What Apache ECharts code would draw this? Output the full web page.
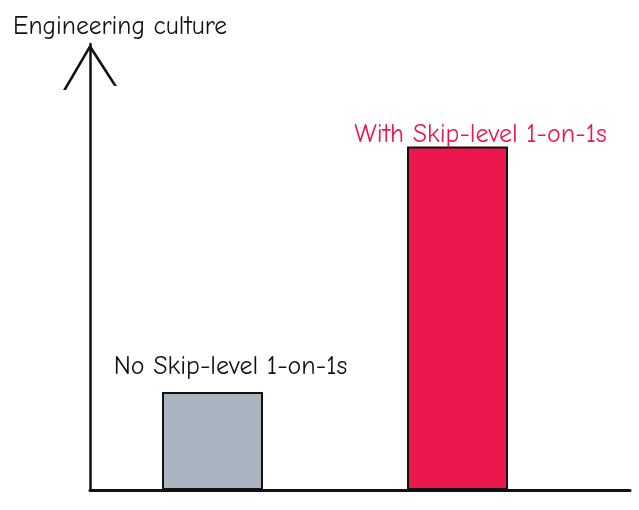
<!DOCTYPE html>
<html>
<head>
    <meta charset="utf-8">
    <title>Engineering culture</title>
    <script src="https://cdn.jsdelivr.net/npm/echarts@6/dist/echarts.min.js"></script>
    <style>
        html, body { margin: 0; padding: 0; background: #fff; }
    </style>
</head>
<body>
    <div id="chart" style="width: 639px;height:510px;"></div>
    <script type="text/javascript">
        // data
        var categories = ['No Skip-level 1-on-1s', 'With Skip-level 1-on-1s'];
        var values = [22, 77];
        var barColors = ['#aab4c0', '#ec174c'];
        var labelColors = ['#111111', '#ec174c'];
        var labelOffsets = [[18, -7], [23, 6]];

        var font = '"Comic Sans MS", "Comic Neue", Lato, sans-serif';

        var myChart = echarts.init(document.getElementById('chart'));

        var option = {
            backgroundColor: '#ffffff',
            animation: false,
            title: {
                text: 'Engineering culture',
                left: 8,
                top: 9,
                textStyle: { fontFamily: font, fontSize: 25.5, fontWeight: 'normal', color: '#111' }
            },
            grid: [
                { left: 90, width: 490, top: 44, bottom: 20 },
                { left: 90, right: 9, top: 44, bottom: 20 }
            ],
            xAxis: [
                {
                    type: 'category',
                    gridIndex: 0,
                    data: categories,
                    axisLine: { show: false },
                    axisTick: { show: false },
                    axisLabel: { show: false }
                },
                {
                    type: 'value',
                    gridIndex: 1,
                    min: 0,
                    max: 1,
                    axisLine: { show: true, lineStyle: { color: '#111', width: 3 } },
                    axisTick: { show: false },
                    axisLabel: { show: false },
                    splitLine: { show: false }
                }
            ],
            yAxis: [
                {
                    type: 'value',
                    gridIndex: 0,
                    min: 0,
                    max: 100,
                    axisLine: {
                        show: true,
                        lineStyle: { color: '#111', width: 2.5 },
                        symbol: ['none', 'path://M0,46 L27,0 L54,42 L51,42 L27,5 L3,46 Z'],
                        symbolSize: [54, 46],
                        symbolOffset: [0, -23]
                    },
                    axisTick: { show: false },
                    axisLabel: { show: false },
                    splitLine: { show: false }
                },
                {
                    type: 'value',
                    gridIndex: 1,
                    min: 0,
                    max: 1,
                    show: false
                }
            ],
            series: [{
                type: 'bar',
                xAxisIndex: 0,
                yAxisIndex: 0,
                barWidth: 101,
                data: values.map(function (v, i) {
                    return {
                        value: v,
                        itemStyle: { color: barColors[i], borderColor: '#111', borderWidth: 2 },
                        label: {
                            show: true,
                            position: 'top',
                            formatter: categories[i],
                            offset: labelOffsets[i],
                            color: labelColors[i],
                            fontFamily: font,
                            fontSize: 26
                        }
                    };
                })
            }]
        };

        myChart.setOption(option);
    </script>
</body>
</html>
